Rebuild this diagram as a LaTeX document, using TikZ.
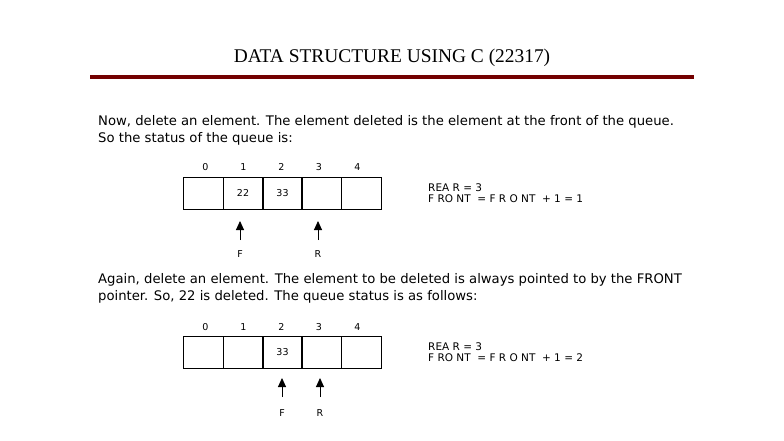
\documentclass[tikz,border=0pt]{standalone}
\usepackage{fontspec}
\usetikzlibrary{arrows.meta}
\setmainfont{DejaVu Sans}
\newfontfamily\titlefont{Liberation Serif}
\begin{document}
\begin{tikzpicture}[x=1pt,y=-1pt,
  cellbox/.style={draw,line width=0.9pt,minimum width=39pt,minimum height=32pt,inner sep=0,font=\fontsize{9.5}{11}\selectfont},
  idx/.style={font=\fontsize{9.5}{11}\selectfont},
  para/.style={anchor=west,font=\fontsize{13.2}{15}\selectfont,inner sep=0},
  ptr/.style={-{Triangle[length=9pt,width=8pt]},line width=0.9pt},
  eq/.style={anchor=west,align=left,font=\fontsize{10.5}{11}\selectfont,inner sep=0}]
\useasboundingbox (0,0) rectangle (784,441);
\fill[white] (0,0) rectangle (784,441);
\node[font=\titlefont\fontsize{19.4}{21}\selectfont] (title) at (392,58) {DATA STRUCTURE USING C (22317)};
\fill[red!45!black] (90,75.5) rectangle (694,79.5);
\node[para] (p1) at (98,122) {Now, delete an element. The element deleted is the element at the front of the queue.};
\node[para] (p2) at (98,139) {So the status of the queue is:};
\foreach \i/\x/\t in {0/203.5/,1/243/22,2/282.5/33,3/321.5/,4/361.5/}{
  \node[cellbox,minimum width=40pt] (a\i) at (\x,193) {\t};
  \node[idx] (ai\i) at (\x-\i*1.5+2,167) {\i};
}
\node[eq] (e1) at (428,193) {REA R = 3\\F RO NT \ = F R O NT \ + 1 = 1};
\coordinate (f1) at (240,240);
\coordinate (f1t) at (240,221);
\coordinate (r1) at (318,240);
\coordinate (r1t) at (318,221);
\draw[ptr] (f1) -- (f1t);
\draw[ptr] (r1) -- (r1t);
\node[idx] (F1) at (240,254) {F};
\node[idx] (R1) at (318,254) {R};
\node[para] (p3) at (98,280) {Again, delete an element. The element to be deleted is always pointed to by the FRONT};
\node[para] (p4) at (98,297) {pointer. So, 22 is deleted. The queue status is as follows:};
\foreach \i/\x/\t in {0/203.5/,1/243/,2/282.5/33,3/321.5/,4/361.5/}{
  \node[cellbox,minimum width=40pt] (b\i) at (\x,352) {\t};
  \node[idx] (bi\i) at (\x-\i*1.5+2,327) {\i};
}
\node[eq] (e2) at (428,352) {REA R = 3\\F RO NT \ = F R O NT \ + 1 = 2};
\coordinate (f2) at (282,397);
\coordinate (f2t) at (282,378);
\coordinate (r2) at (320,397);
\coordinate (r2t) at (320,378);
\draw[ptr] (f2) -- (f2t);
\draw[ptr] (r2) -- (r2t);
\node[idx] (F2) at (282,413) {F};
\node[idx] (R2) at (320,413) {R};
\end{tikzpicture}
\end{document}
